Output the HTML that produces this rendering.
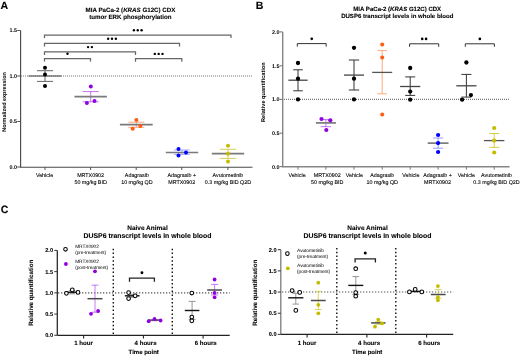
<!DOCTYPE html><html><head><meta charset="utf-8"><style>html,body{margin:0;padding:0;background:#fff;width:520px;height:356px;overflow:hidden}svg{display:block;will-change:transform}text{font-family:"Liberation Sans",sans-serif;fill:#000;stroke:#000;stroke-width:0.1px;text-rendering:geometricPrecision}</style></head><body>
<svg width="520" height="356" viewBox="0 0 520 356">
<text x="0.5" y="8.6" font-size="10.6" text-anchor="start" font-weight="bold" >A</text>
<text x="255.8" y="8.8" font-size="10.6" text-anchor="start" font-weight="bold" >B</text>
<text x="0.8" y="213.3" font-size="10.6" text-anchor="start" font-weight="bold" >C</text>
<text x="130.5" y="11.6" font-size="6.2" text-anchor="middle" font-weight="bold" >MIA PaCa-2 (<tspan font-style="italic">KRAS</tspan> G12C) CDX</text>
<text x="130.4" y="18.5" font-size="6.2" text-anchor="middle" font-weight="bold" >tumor ERK phosphorylation</text>
<line x1="21" y1="76" x2="253" y2="76" stroke="#777" stroke-width="1.2" stroke-dasharray="1 1"/>
<path d="M20.6 30.4V167.2H252.5" fill="none" stroke="#4a4a4a" stroke-width="1.15"/>
<line x1="17.3" y1="30.5" x2="20.6" y2="30.5" stroke="#555" stroke-width="1.05" />
<text x="16.9" y="32.4" font-size="5.4" text-anchor="end" font-weight="bold" style="stroke:none">1.5</text>
<line x1="17.3" y1="76" x2="20.6" y2="76" stroke="#555" stroke-width="1.05" />
<text x="16.9" y="77.9" font-size="5.4" text-anchor="end" font-weight="bold" style="stroke:none">1.0</text>
<line x1="17.3" y1="121.5" x2="20.6" y2="121.5" stroke="#555" stroke-width="1.05" />
<text x="16.9" y="123.4" font-size="5.4" text-anchor="end" font-weight="bold" style="stroke:none">0.5</text>
<line x1="17.3" y1="167" x2="20.6" y2="167" stroke="#555" stroke-width="1.05" />
<text x="16.9" y="168.9" font-size="5.4" text-anchor="end" font-weight="bold" style="stroke:none">0.0</text>
<line x1="45" y1="167.2" x2="45" y2="170" stroke="#555" stroke-width="1" />
<line x1="90.6" y1="167.2" x2="90.6" y2="170" stroke="#555" stroke-width="1" />
<line x1="136.2" y1="167.2" x2="136.2" y2="170" stroke="#555" stroke-width="1" />
<line x1="181.8" y1="167.2" x2="181.8" y2="170" stroke="#555" stroke-width="1" />
<line x1="227.9" y1="167.2" x2="227.9" y2="170" stroke="#555" stroke-width="1" />
<text x="6.2" y="102" font-size="5.45" text-anchor="middle" font-weight="bold" style="stroke:none" transform="rotate(-90 6.2 102)">Normalized expression</text>
<text x="44.5" y="177.4" font-size="5.35" text-anchor="middle" font-weight="normal" >Vehicle</text>
<text x="90.6" y="177.4" font-size="5.35" text-anchor="middle" font-weight="normal" >MRTX0902</text>
<text x="90.6" y="183.5" font-size="5.35" text-anchor="middle" font-weight="normal" >50 mg/kg BID</text>
<text x="136.89999999999998" y="177.4" font-size="5.35" text-anchor="middle" font-weight="normal" >Adagrasib</text>
<text x="136.89999999999998" y="183.5" font-size="5.35" text-anchor="middle" font-weight="normal" >10 mg/kg QD</text>
<text x="181.8" y="177.4" font-size="5.35" text-anchor="middle" font-weight="normal" >Adagrasib +</text>
<text x="181.8" y="183.5" font-size="5.35" text-anchor="middle" font-weight="normal" >MRTX0902</text>
<text x="227.9" y="177.4" font-size="5.35" text-anchor="middle" font-weight="normal" >Avutometinib</text>
<text x="227.9" y="183.5" font-size="5.35" text-anchor="middle" font-weight="normal" >0.3 mg/kg BID Q2D</text>
<line x1="45" y1="70.7" x2="45" y2="81.4" stroke="#555" stroke-width="0.9" />
<line x1="37" y1="70.7" x2="53" y2="70.7" stroke="#555" stroke-width="0.9" />
<line x1="37" y1="81.4" x2="53" y2="81.4" stroke="#555" stroke-width="0.9" />
<line x1="28.5" y1="76.0" x2="61.5" y2="76.0" stroke="#7a7a7a" stroke-width="1.7" />
<circle cx="45" cy="67.7" r="2.0" fill="#000"/>
<circle cx="45" cy="74.5" r="2.0" fill="#000"/>
<circle cx="45" cy="85.9" r="2.0" fill="#000"/>
<line x1="90.7" y1="91.6" x2="90.7" y2="101.8" stroke="#b050f0" stroke-width="0.8" />
<line x1="82.7" y1="91.6" x2="98.7" y2="91.6" stroke="#b050f0" stroke-width="0.8" />
<line x1="82.7" y1="101.8" x2="98.7" y2="101.8" stroke="#b050f0" stroke-width="0.8" />
<line x1="74.5" y1="96.7" x2="106.9" y2="96.7" stroke="#7a7a7a" stroke-width="1.7" />
<circle cx="90.8" cy="86.6" r="2.0" fill="#9000e0"/>
<circle cx="86.9" cy="102.9" r="2.0" fill="#9000e0"/>
<circle cx="94.5" cy="100.9" r="2.0" fill="#9000e0"/>
<line x1="136.3" y1="122.2" x2="136.3" y2="127.3" stroke="#ff9060" stroke-width="0.8" />
<line x1="128.3" y1="122.2" x2="144.3" y2="122.2" stroke="#ff9060" stroke-width="0.8" />
<line x1="128.3" y1="127.3" x2="144.3" y2="127.3" stroke="#ff9060" stroke-width="0.8" />
<line x1="119.9" y1="124.7" x2="152.70000000000002" y2="124.7" stroke="#7a7a7a" stroke-width="1.7" />
<circle cx="136.4" cy="119.9" r="2.0" fill="#ff5a14"/>
<circle cx="132.7" cy="128.7" r="2.0" fill="#ff5a14"/>
<circle cx="140.3" cy="126" r="2.0" fill="#ff5a14"/>
<line x1="182" y1="150" x2="182" y2="154.4" stroke="#8080ff" stroke-width="0.7" />
<line x1="174.2" y1="150" x2="189.8" y2="150" stroke="#8080ff" stroke-width="0.7" />
<line x1="174.2" y1="154.4" x2="189.8" y2="154.4" stroke="#8080ff" stroke-width="0.7" />
<line x1="165.8" y1="152.5" x2="198.2" y2="152.5" stroke="#7a7a7a" stroke-width="1.7" />
<circle cx="178.5" cy="149" r="2.0" fill="#0000ff"/>
<circle cx="178.5" cy="155.6" r="2.0" fill="#0000ff"/>
<circle cx="186" cy="152.5" r="2.0" fill="#0000ff"/>
<line x1="228" y1="149.3" x2="228" y2="158.4" stroke="#c8bf20" stroke-width="0.75" />
<line x1="219.8" y1="149.3" x2="236.2" y2="149.3" stroke="#c8bf20" stroke-width="0.75" />
<line x1="219.8" y1="158.4" x2="236.2" y2="158.4" stroke="#c8bf20" stroke-width="0.75" />
<line x1="211.8" y1="153.6" x2="244.2" y2="153.6" stroke="#7a7a7a" stroke-width="1.7" />
<circle cx="228" cy="145.7" r="2.0" fill="#c4bc00"/>
<circle cx="228" cy="153.8" r="2.0" fill="#c4bc00"/>
<circle cx="228" cy="161.6" r="2.0" fill="#c4bc00"/>
<path d="M44.5 38.0V35.0H231V38.0" fill="none" stroke="#666" stroke-width="1.25"/>
<circle cx="133.9" cy="30.2" r="1.2" fill="#000"/>
<circle cx="137.75" cy="30.2" r="1.2" fill="#000"/>
<circle cx="141.6" cy="30.2" r="1.2" fill="#000"/>
<path d="M44.5 46.4V43.4H179.5V46.4" fill="none" stroke="#666" stroke-width="1.25"/>
<circle cx="108.15" cy="38.8" r="1.2" fill="#000"/>
<circle cx="112.0" cy="38.8" r="1.2" fill="#000"/>
<circle cx="115.85" cy="38.8" r="1.2" fill="#000"/>
<path d="M44.5 54.9V51.9H135.5V54.9" fill="none" stroke="#666" stroke-width="1.25"/>
<circle cx="88.075" cy="47.1" r="1.2" fill="#000"/>
<circle cx="91.925" cy="47.1" r="1.2" fill="#000"/>
<path d="M44.5 61.6V58.6H90.5V61.6" fill="none" stroke="#666" stroke-width="1.25"/>
<circle cx="67.5" cy="53.8" r="1.2" fill="#000"/>
<path d="M135.5 61.7V58.7H181.8V61.7" fill="none" stroke="#666" stroke-width="1.25"/>
<circle cx="154.8" cy="53.9" r="1.2" fill="#000"/>
<circle cx="158.65" cy="53.9" r="1.2" fill="#000"/>
<circle cx="162.5" cy="53.9" r="1.2" fill="#000"/>
<text x="397.25" y="11.0" font-size="6.05" text-anchor="middle" font-weight="bold" >MIA PaCa-2 (<tspan font-style="italic">KRAS</tspan> G12C) CDX</text>
<text x="397.25" y="17.9" font-size="6.05" text-anchor="middle" font-weight="bold" >DUSP6 transcript levels in whole blood</text>
<line x1="284" y1="99.4" x2="510" y2="99.4" stroke="#777" stroke-width="1.2" stroke-dasharray="1 1"/>
<path d="M282.7 31.9V166.8H509.6" fill="none" stroke="#858585" stroke-width="1.4"/>
<line x1="279.6" y1="31.9" x2="282.7" y2="31.9" stroke="#777" stroke-width="1.1" />
<text x="279.5" y="33.8" font-size="5.4" text-anchor="end" font-weight="bold" style="stroke:none">2.0</text>
<line x1="279.6" y1="65.8" x2="282.7" y2="65.8" stroke="#777" stroke-width="1.1" />
<text x="279.5" y="67.7" font-size="5.4" text-anchor="end" font-weight="bold" style="stroke:none">1.5</text>
<line x1="279.6" y1="99.4" x2="282.7" y2="99.4" stroke="#777" stroke-width="1.1" />
<text x="279.5" y="101.30000000000001" font-size="5.4" text-anchor="end" font-weight="bold" style="stroke:none">1.0</text>
<line x1="279.6" y1="133.2" x2="282.7" y2="133.2" stroke="#777" stroke-width="1.1" />
<text x="279.5" y="135.1" font-size="5.4" text-anchor="end" font-weight="bold" style="stroke:none">0.5</text>
<line x1="279.6" y1="166.6" x2="282.7" y2="166.6" stroke="#777" stroke-width="1.1" />
<text x="279.5" y="168.5" font-size="5.4" text-anchor="end" font-weight="bold" style="stroke:none">0.0</text>
<line x1="298" y1="166.8" x2="298" y2="169.6" stroke="#777" stroke-width="1" />
<line x1="325.9" y1="166.8" x2="325.9" y2="169.6" stroke="#777" stroke-width="1" />
<line x1="354" y1="166.8" x2="354" y2="169.6" stroke="#777" stroke-width="1" />
<line x1="382.2" y1="166.8" x2="382.2" y2="169.6" stroke="#777" stroke-width="1" />
<line x1="410.2" y1="166.8" x2="410.2" y2="169.6" stroke="#777" stroke-width="1" />
<line x1="438.1" y1="166.8" x2="438.1" y2="169.6" stroke="#777" stroke-width="1" />
<line x1="466.4" y1="166.8" x2="466.4" y2="169.6" stroke="#777" stroke-width="1" />
<line x1="494.2" y1="166.8" x2="494.2" y2="169.6" stroke="#777" stroke-width="1" />
<text x="265.1" y="92.1" font-size="5.6" text-anchor="middle" font-weight="bold" style="stroke:none" transform="rotate(-90 265.1 92.1)">Relative quantification</text>
<text x="297" y="177.3" font-size="5.35" text-anchor="middle" font-weight="normal" >Vehicle</text>
<text x="327.2" y="177.3" font-size="5.35" text-anchor="middle" font-weight="normal" >MRTX0902</text>
<text x="327.2" y="183.5" font-size="5.35" text-anchor="middle" font-weight="normal" >50 mg/kg BID</text>
<text x="354.3" y="177.3" font-size="5.35" text-anchor="middle" font-weight="normal" >Vehicle</text>
<text x="382.2" y="177.3" font-size="5.35" text-anchor="middle" font-weight="normal" >Adagrasib</text>
<text x="382.2" y="183.5" font-size="5.35" text-anchor="middle" font-weight="normal" >10 mg/kg QD</text>
<text x="410.8" y="177.3" font-size="5.35" text-anchor="middle" font-weight="normal" >Vehicle</text>
<text x="437.5" y="177.3" font-size="5.35" text-anchor="middle" font-weight="normal" >Adagrasib +</text>
<text x="437.5" y="183.5" font-size="5.35" text-anchor="middle" font-weight="normal" >MRTX0902</text>
<text x="466.4" y="177.3" font-size="5.35" text-anchor="middle" font-weight="normal" >Vehicle</text>
<text x="496.5" y="177.3" font-size="5.35" text-anchor="middle" font-weight="normal" >Avutometinib</text>
<text x="496.5" y="183.5" font-size="5.35" text-anchor="middle" font-weight="normal" >0.3 mg/kg BID Q2D</text>
<line x1="298" y1="69.8" x2="298" y2="90.8" stroke="#333" stroke-width="1.0" />
<line x1="293.2" y1="69.8" x2="302.8" y2="69.8" stroke="#333" stroke-width="1.0" />
<line x1="293.2" y1="90.8" x2="302.8" y2="90.8" stroke="#333" stroke-width="1.0" />
<line x1="288.4" y1="80.2" x2="307.6" y2="80.2" stroke="#444" stroke-width="1.3" />
<circle cx="298" cy="63" r="2.15" fill="#000"/>
<circle cx="298" cy="78.7" r="2.15" fill="#000"/>
<circle cx="298" cy="99.4" r="2.15" fill="#000"/>
<line x1="325.9" y1="119.6" x2="325.9" y2="126.7" stroke="#b050f0" stroke-width="0.8" />
<line x1="320.59999999999997" y1="119.6" x2="331.2" y2="119.6" stroke="#b050f0" stroke-width="0.8" />
<line x1="320.59999999999997" y1="126.7" x2="331.2" y2="126.7" stroke="#b050f0" stroke-width="0.8" />
<line x1="315.9" y1="122.9" x2="335.9" y2="122.9" stroke="#7a7a7a" stroke-width="1.7" />
<circle cx="321.5" cy="119" r="2.1" fill="#9000e0"/>
<circle cx="330.3" cy="120.3" r="2.1" fill="#9000e0"/>
<circle cx="326.3" cy="130" r="2.1" fill="#9000e0"/>
<line x1="354" y1="60" x2="354" y2="90" stroke="#333" stroke-width="1.0" />
<line x1="348.8" y1="60" x2="359.2" y2="60" stroke="#333" stroke-width="1.0" />
<line x1="348.8" y1="90" x2="359.2" y2="90" stroke="#333" stroke-width="1.0" />
<line x1="344" y1="75.1" x2="364" y2="75.1" stroke="#444" stroke-width="1.3" />
<circle cx="354" cy="47.8" r="2.15" fill="#000"/>
<circle cx="354" cy="78.7" r="2.15" fill="#000"/>
<circle cx="354" cy="99.4" r="2.15" fill="#000"/>
<line x1="382.2" y1="50.6" x2="382.2" y2="93.8" stroke="#ff9060" stroke-width="0.8" />
<line x1="377.4" y1="50.6" x2="387.0" y2="50.6" stroke="#ff9060" stroke-width="0.8" />
<line x1="377.4" y1="93.8" x2="387.0" y2="93.8" stroke="#ff9060" stroke-width="0.8" />
<line x1="372.2" y1="72.4" x2="392.2" y2="72.4" stroke="#555" stroke-width="1.3" />
<circle cx="382.2" cy="44.5" r="2.0" fill="#ff5a14"/>
<circle cx="382.2" cy="57.4" r="2.0" fill="#ff5a14"/>
<circle cx="382.2" cy="114.5" r="2.0" fill="#ff5a14"/>
<line x1="410.2" y1="76.9" x2="410.2" y2="95.4" stroke="#333" stroke-width="1.0" />
<line x1="405.2" y1="76.9" x2="415.2" y2="76.9" stroke="#333" stroke-width="1.0" />
<line x1="405.2" y1="95.4" x2="415.2" y2="95.4" stroke="#333" stroke-width="1.0" />
<line x1="400.09999999999997" y1="86.5" x2="420.3" y2="86.5" stroke="#444" stroke-width="1.3" />
<circle cx="410.2" cy="68" r="2.15" fill="#000"/>
<circle cx="410.2" cy="91.6" r="2.15" fill="#000"/>
<circle cx="410.2" cy="99.7" r="2.15" fill="#000"/>
<line x1="438.1" y1="138" x2="438.1" y2="148.2" stroke="#8080ff" stroke-width="0.8" />
<line x1="433.1" y1="138" x2="443.1" y2="138" stroke="#8080ff" stroke-width="0.8" />
<line x1="433.1" y1="148.2" x2="443.1" y2="148.2" stroke="#8080ff" stroke-width="0.8" />
<line x1="427.70000000000005" y1="143.1" x2="448.5" y2="143.1" stroke="#555" stroke-width="1.3" />
<circle cx="438.1" cy="135" r="2.1" fill="#0000ff"/>
<circle cx="438.1" cy="143.1" r="2.1" fill="#0000ff"/>
<circle cx="438.1" cy="152" r="2.1" fill="#0000ff"/>
<line x1="466.4" y1="74.4" x2="466.4" y2="97.1" stroke="#333" stroke-width="1.0" />
<line x1="461.4" y1="74.4" x2="471.4" y2="74.4" stroke="#333" stroke-width="1.0" />
<line x1="461.4" y1="97.1" x2="471.4" y2="97.1" stroke="#333" stroke-width="1.0" />
<line x1="456.29999999999995" y1="85.8" x2="476.5" y2="85.8" stroke="#444" stroke-width="1.3" />
<circle cx="466.4" cy="62.5" r="2.15" fill="#000"/>
<circle cx="470.9" cy="95.1" r="2.15" fill="#000"/>
<circle cx="462.1" cy="99.7" r="2.15" fill="#000"/>
<line x1="494.2" y1="133.5" x2="494.2" y2="147.4" stroke="#d0c830" stroke-width="0.9" />
<line x1="489.2" y1="133.5" x2="499.2" y2="133.5" stroke="#d0c830" stroke-width="0.9" />
<line x1="489.2" y1="147.4" x2="499.2" y2="147.4" stroke="#d0c830" stroke-width="0.9" />
<line x1="484.0" y1="140.6" x2="504.4" y2="140.6" stroke="#555" stroke-width="1.3" />
<circle cx="494.2" cy="128" r="2.1" fill="#c4bc00"/>
<circle cx="494.2" cy="140.6" r="2.1" fill="#c4bc00"/>
<circle cx="494.2" cy="152.5" r="2.1" fill="#c4bc00"/>
<path d="M297.3 46.6V43.6H326.2V46.6" fill="none" stroke="#333" stroke-width="1"/>
<circle cx="311.75" cy="38.8" r="1.35" fill="#000"/>
<path d="M409.6 46.8V43.8H438.7V46.8" fill="none" stroke="#333" stroke-width="1"/>
<circle cx="422.22499999999997" cy="38.9" r="1.3" fill="#000"/>
<circle cx="426.075" cy="38.9" r="1.3" fill="#000"/>
<path d="M465.3 46.8V43.8H494.4V46.8" fill="none" stroke="#333" stroke-width="1"/>
<circle cx="479.85" cy="38.9" r="1.35" fill="#000"/>
<text x="147.5" y="230.0" font-size="6.5" text-anchor="middle" font-weight="bold" >Naive Animal</text>
<text x="147.5" y="238.3" font-size="6.9" text-anchor="middle" font-weight="bold" >DUSP6 transcript levels in whole blood</text>
<line x1="58" y1="292.85" x2="229.7" y2="292.85" stroke="#555" stroke-width="1.1" stroke-dasharray="1.3 1.7"/>
<line x1="113.3" y1="248.8" x2="113.3" y2="335.3" stroke="#111" stroke-width="1.4" stroke-dasharray="1.5 2.3"/>
<line x1="172.3" y1="248.8" x2="172.3" y2="335.3" stroke="#111" stroke-width="1.4" stroke-dasharray="1.5 2.3"/>
<path d="M57.3 250.4V335.3" fill="none" stroke="#222" stroke-width="1.25"/>
<path d="M57.3 335.3H229.7" fill="none" stroke="#222" stroke-width="1.25"/>
<line x1="54.3" y1="250.4" x2="57.3" y2="250.4" stroke="#333" stroke-width="1" />
<text x="53.0" y="252.4" font-size="5.6" text-anchor="end" font-weight="bold" >2.0</text>
<line x1="54.3" y1="271.625" x2="57.3" y2="271.625" stroke="#333" stroke-width="1" />
<text x="53.0" y="273.625" font-size="5.6" text-anchor="end" font-weight="bold" >1.5</text>
<line x1="54.3" y1="292.85" x2="57.3" y2="292.85" stroke="#333" stroke-width="1" />
<text x="53.0" y="294.85" font-size="5.6" text-anchor="end" font-weight="bold" >1.0</text>
<line x1="54.3" y1="314.075" x2="57.3" y2="314.075" stroke="#333" stroke-width="1" />
<text x="53.0" y="316.075" font-size="5.6" text-anchor="end" font-weight="bold" >0.5</text>
<line x1="54.3" y1="335.3" x2="57.3" y2="335.3" stroke="#333" stroke-width="1" />
<text x="53.0" y="337.3" font-size="5.6" text-anchor="end" font-weight="bold" >0.0</text>
<line x1="83.6" y1="335.3" x2="83.6" y2="338.5" stroke="#222" stroke-width="1.1" />
<text x="83.6" y="345.0" font-size="6.1" text-anchor="middle" font-weight="bold" >1 hour</text>
<line x1="143.39999999999998" y1="335.3" x2="143.39999999999998" y2="338.5" stroke="#222" stroke-width="1.1" />
<text x="145.59999999999997" y="345.0" font-size="6.1" text-anchor="middle" font-weight="bold" >4 hours</text>
<line x1="203.10000000000002" y1="335.3" x2="203.10000000000002" y2="338.5" stroke="#222" stroke-width="1.1" />
<text x="205.70000000000002" y="345.0" font-size="6.1" text-anchor="middle" font-weight="bold" >6 hours</text>
<text x="143.7" y="354.3" font-size="6.0" text-anchor="middle" font-weight="bold" >Time point</text>
<text x="33.099999999999994" y="292.7" font-size="6.2" text-anchor="middle" font-weight="bold" transform="rotate(-90 33.099999999999994 292.7)">Relative quantification</text>
<circle cx="65.5" cy="249.3" r="1.8" fill="#fff" stroke="#000" stroke-width="1.05"/>
<text x="75.19999999999999" y="248.10000000000002" font-size="4.85" text-anchor="start" font-weight="normal" fill="#222" style="stroke:none" letter-spacing="-0.1">MRTX0902</text>
<text x="75.19999999999999" y="253.9" font-size="4.85" text-anchor="start" font-weight="normal" fill="#222" style="stroke:none" letter-spacing="-0.1">(pre-treatment)</text>
<circle cx="65.89999999999999" cy="264.0" r="1.9" fill="#9000e0"/>
<text x="75.19999999999999" y="263.0" font-size="4.85" text-anchor="start" font-weight="normal" fill="#222" style="stroke:none" letter-spacing="-0.1">MRTX0902</text>
<text x="75.19999999999999" y="268.8" font-size="4.85" text-anchor="start" font-weight="normal" fill="#222" style="stroke:none" letter-spacing="-0.1">(post-treatment)</text>
<line x1="72.2" y1="290.5" x2="72.2" y2="293.8" stroke="#8a8a8a" stroke-width="0.9" />
<line x1="69.2" y1="290.5" x2="75.2" y2="290.5" stroke="#8a8a8a" stroke-width="0.9" />
<line x1="69.2" y1="293.8" x2="75.2" y2="293.8" stroke="#8a8a8a" stroke-width="0.9" />
<line x1="64.9" y1="292.2" x2="79.5" y2="292.2" stroke="#111" stroke-width="1.4" />
<circle cx="66.4" cy="293.3" r="1.85" fill="#fff" stroke="#000" stroke-width="1.05"/>
<circle cx="72.3" cy="289.9" r="1.85" fill="#fff" stroke="#000" stroke-width="1.05"/>
<circle cx="78" cy="292.4" r="1.85" fill="#fff" stroke="#000" stroke-width="1.05"/>
<line x1="95" y1="285.2" x2="95" y2="312.2" stroke="#b050f0" stroke-width="0.75" />
<line x1="91.6" y1="285.2" x2="98.4" y2="285.2" stroke="#b050f0" stroke-width="0.75" />
<line x1="91.6" y1="312.2" x2="98.4" y2="312.2" stroke="#b050f0" stroke-width="0.75" />
<line x1="87.5" y1="298.7" x2="102.5" y2="298.7" stroke="#4a4a4a" stroke-width="1.5" />
<circle cx="95" cy="271.3" r="1.9" fill="#9000e0"/>
<circle cx="91" cy="313.8" r="1.9" fill="#9000e0"/>
<circle cx="98.1" cy="311" r="1.9" fill="#9000e0"/>
<line x1="132.2" y1="294.3" x2="132.2" y2="297.3" stroke="#8a8a8a" stroke-width="0.9" />
<line x1="129.2" y1="294.3" x2="135.2" y2="294.3" stroke="#8a8a8a" stroke-width="0.9" />
<line x1="129.2" y1="297.3" x2="135.2" y2="297.3" stroke="#8a8a8a" stroke-width="0.9" />
<line x1="124.79999999999998" y1="295.8" x2="139.6" y2="295.8" stroke="#111" stroke-width="1.4" />
<circle cx="128.6" cy="292.6" r="1.85" fill="#fff" stroke="#000" stroke-width="1.05"/>
<circle cx="128.6" cy="298.6" r="1.85" fill="#fff" stroke="#000" stroke-width="1.05"/>
<circle cx="135.2" cy="295.8" r="1.85" fill="#fff" stroke="#000" stroke-width="1.05"/>
<line x1="154.6" y1="319.5" x2="154.6" y2="320.8" stroke="#b050f0" stroke-width="0.75" />
<line x1="151.6" y1="319.5" x2="157.6" y2="319.5" stroke="#b050f0" stroke-width="0.75" />
<line x1="151.6" y1="320.8" x2="157.6" y2="320.8" stroke="#b050f0" stroke-width="0.75" />
<line x1="148.1" y1="320.1" x2="161.1" y2="320.1" stroke="#4a4a4a" stroke-width="1.5" />
<circle cx="148.7" cy="321.2" r="1.9" fill="#9000e0"/>
<circle cx="154.5" cy="318.9" r="1.9" fill="#9000e0"/>
<circle cx="160.6" cy="320.5" r="1.9" fill="#9000e0"/>
<line x1="192.1" y1="301.4" x2="192.1" y2="319.3" stroke="#8a8a8a" stroke-width="0.9" />
<line x1="188.6" y1="301.4" x2="195.6" y2="301.4" stroke="#8a8a8a" stroke-width="0.9" />
<line x1="188.6" y1="319.3" x2="195.6" y2="319.3" stroke="#8a8a8a" stroke-width="0.9" />
<line x1="184.79999999999998" y1="310.5" x2="199.4" y2="310.5" stroke="#111" stroke-width="1.4" />
<circle cx="191.8" cy="293.0" r="1.85" fill="#fff" stroke="#000" stroke-width="1.05"/>
<circle cx="191.8" cy="317.1" r="1.85" fill="#fff" stroke="#000" stroke-width="1.05"/>
<circle cx="191.8" cy="320.8" r="1.85" fill="#fff" stroke="#000" stroke-width="1.05"/>
<line x1="214.6" y1="284.4" x2="214.6" y2="295.0" stroke="#b050f0" stroke-width="0.75" />
<line x1="211.0" y1="284.4" x2="218.2" y2="284.4" stroke="#b050f0" stroke-width="0.75" />
<line x1="211.0" y1="295.0" x2="218.2" y2="295.0" stroke="#b050f0" stroke-width="0.75" />
<line x1="207.2" y1="290.0" x2="222.0" y2="290.0" stroke="#4a4a4a" stroke-width="1.5" />
<circle cx="214.6" cy="279.5" r="1.9" fill="#9000e0"/>
<circle cx="214.6" cy="292.9" r="1.9" fill="#9000e0"/>
<circle cx="214.6" cy="297.3" r="1.9" fill="#9000e0"/>
<path d="M129.5 281.8V278.1H154.4V281.8" fill="none" stroke="#222" stroke-width="1.3"/>
<circle cx="141.95" cy="272.8" r="1.45" fill="#000"/>
<text x="367.5" y="230.0" font-size="6.5" text-anchor="middle" font-weight="bold" >Naive Animal</text>
<text x="367.5" y="238.3" font-size="6.9" text-anchor="middle" font-weight="bold" >DUSP6 transcript levels in whole blood</text>
<line x1="282" y1="292.04999999999995" x2="453.20000000000005" y2="292.04999999999995" stroke="#555" stroke-width="1.1" stroke-dasharray="1.3 1.7"/>
<line x1="336.8" y1="247.89999999999998" x2="336.8" y2="334.4" stroke="#111" stroke-width="1.4" stroke-dasharray="1.5 2.3"/>
<line x1="395.8" y1="247.89999999999998" x2="395.8" y2="334.4" stroke="#111" stroke-width="1.4" stroke-dasharray="1.5 2.3"/>
<path d="M280.8 249.7V334.4" fill="none" stroke="#777" stroke-width="1.25"/>
<path d="M280.8 334.4H453.20000000000005" fill="none" stroke="#222" stroke-width="1.25"/>
<line x1="277.8" y1="249.7" x2="280.8" y2="249.7" stroke="#333" stroke-width="1" />
<text x="276.5" y="251.7" font-size="5.6" text-anchor="end" font-weight="bold" >2.0</text>
<line x1="277.8" y1="270.875" x2="280.8" y2="270.875" stroke="#333" stroke-width="1" />
<text x="276.5" y="272.875" font-size="5.6" text-anchor="end" font-weight="bold" >1.5</text>
<line x1="277.8" y1="292.04999999999995" x2="280.8" y2="292.04999999999995" stroke="#333" stroke-width="1" />
<text x="276.5" y="294.04999999999995" font-size="5.6" text-anchor="end" font-weight="bold" >1.0</text>
<line x1="277.8" y1="313.22499999999997" x2="280.8" y2="313.22499999999997" stroke="#333" stroke-width="1" />
<text x="276.5" y="315.22499999999997" font-size="5.6" text-anchor="end" font-weight="bold" >0.5</text>
<line x1="277.8" y1="334.4" x2="280.8" y2="334.4" stroke="#333" stroke-width="1" />
<text x="276.5" y="336.4" font-size="5.6" text-anchor="end" font-weight="bold" >0.0</text>
<line x1="307.1" y1="334.4" x2="307.1" y2="337.59999999999997" stroke="#222" stroke-width="1.1" />
<text x="307.1" y="345.0" font-size="6.1" text-anchor="middle" font-weight="bold" >1 hour</text>
<line x1="366.9" y1="334.4" x2="366.9" y2="337.59999999999997" stroke="#222" stroke-width="1.1" />
<text x="369.09999999999997" y="345.0" font-size="6.1" text-anchor="middle" font-weight="bold" >4 hours</text>
<line x1="426.6" y1="334.4" x2="426.6" y2="337.59999999999997" stroke="#222" stroke-width="1.1" />
<text x="429.20000000000005" y="345.0" font-size="6.1" text-anchor="middle" font-weight="bold" >6 hours</text>
<text x="367.2" y="354.3" font-size="6.0" text-anchor="middle" font-weight="bold" >Time point</text>
<text x="256.6" y="292.7" font-size="6.2" text-anchor="middle" font-weight="bold" transform="rotate(-90 256.6 292.7)">Relative quantification</text>
<circle cx="287.4" cy="253.6" r="1.8" fill="#fff" stroke="#000" stroke-width="1.05"/>
<text x="297.09999999999997" y="252.4" font-size="4.85" text-anchor="start" font-weight="normal" fill="#222" style="stroke:none" letter-spacing="-0.1">Avutometinib</text>
<text x="297.09999999999997" y="258.2" font-size="4.85" text-anchor="start" font-weight="normal" fill="#222" style="stroke:none" letter-spacing="-0.1">(pre-treatment)</text>
<circle cx="287.8" cy="268.3" r="1.9" fill="#c4bc00"/>
<text x="297.09999999999997" y="267.3" font-size="4.85" text-anchor="start" font-weight="normal" fill="#222" style="stroke:none" letter-spacing="-0.1">Avutometinib</text>
<text x="297.09999999999997" y="273.1" font-size="4.85" text-anchor="start" font-weight="normal" fill="#222" style="stroke:none" letter-spacing="-0.1">(post-treatment)</text>
<line x1="295.8" y1="293.3" x2="295.8" y2="304.1" stroke="#8a8a8a" stroke-width="0.9" />
<line x1="292.40000000000003" y1="293.3" x2="299.2" y2="293.3" stroke="#8a8a8a" stroke-width="0.9" />
<line x1="292.40000000000003" y1="304.1" x2="299.2" y2="304.1" stroke="#8a8a8a" stroke-width="0.9" />
<line x1="288.2" y1="297.8" x2="303.40000000000003" y2="297.8" stroke="#111" stroke-width="1.4" />
<circle cx="292.1" cy="290.6" r="1.85" fill="#fff" stroke="#000" stroke-width="1.05"/>
<circle cx="299.7" cy="292.4" r="1.85" fill="#fff" stroke="#000" stroke-width="1.05"/>
<circle cx="295.8" cy="310.4" r="1.85" fill="#fff" stroke="#000" stroke-width="1.05"/>
<line x1="318.3" y1="291.3" x2="318.3" y2="309.5" stroke="#d0c830" stroke-width="0.75" />
<line x1="314.90000000000003" y1="291.3" x2="321.7" y2="291.3" stroke="#d0c830" stroke-width="0.75" />
<line x1="314.90000000000003" y1="309.5" x2="321.7" y2="309.5" stroke="#d0c830" stroke-width="0.75" />
<line x1="310.90000000000003" y1="300.5" x2="325.7" y2="300.5" stroke="#4a4a4a" stroke-width="1.5" />
<circle cx="318.3" cy="282.7" r="1.9" fill="#c4bc00"/>
<circle cx="318.3" cy="304.8" r="1.9" fill="#c4bc00"/>
<circle cx="318.3" cy="313.3" r="1.9" fill="#c4bc00"/>
<line x1="355.8" y1="276.6" x2="355.8" y2="294.4" stroke="#8a8a8a" stroke-width="0.9" />
<line x1="352.40000000000003" y1="276.6" x2="359.2" y2="276.6" stroke="#8a8a8a" stroke-width="0.9" />
<line x1="352.40000000000003" y1="294.4" x2="359.2" y2="294.4" stroke="#8a8a8a" stroke-width="0.9" />
<line x1="348.3" y1="285.4" x2="363.3" y2="285.4" stroke="#111" stroke-width="1.4" />
<circle cx="355.7" cy="268.7" r="1.85" fill="#fff" stroke="#000" stroke-width="1.05"/>
<circle cx="355.7" cy="292.6" r="1.85" fill="#fff" stroke="#000" stroke-width="1.05"/>
<circle cx="355.7" cy="296.2" r="1.85" fill="#fff" stroke="#000" stroke-width="1.05"/>
<line x1="378.3" y1="321.5" x2="378.3" y2="324.3" stroke="#d0c830" stroke-width="0.75" />
<line x1="375.3" y1="321.5" x2="381.3" y2="321.5" stroke="#d0c830" stroke-width="0.75" />
<line x1="375.3" y1="324.3" x2="381.3" y2="324.3" stroke="#d0c830" stroke-width="0.75" />
<line x1="371.1" y1="322.9" x2="385.5" y2="322.9" stroke="#4a4a4a" stroke-width="1.5" />
<circle cx="378.3" cy="319.6" r="1.9" fill="#c4bc00"/>
<circle cx="382.1" cy="323.4" r="1.9" fill="#c4bc00"/>
<circle cx="375" cy="326.7" r="1.9" fill="#c4bc00"/>
<line x1="415.5" y1="291" x2="415.5" y2="292" stroke="#8a8a8a" stroke-width="0.9" />
<line x1="413.5" y1="291" x2="417.5" y2="291" stroke="#8a8a8a" stroke-width="0.9" />
<line x1="413.5" y1="292" x2="417.5" y2="292" stroke="#8a8a8a" stroke-width="0.9" />
<line x1="408.3" y1="291.4" x2="422.7" y2="291.4" stroke="#111" stroke-width="1.4" />
<circle cx="409.4" cy="291.9" r="1.85" fill="#fff" stroke="#000" stroke-width="1.05"/>
<circle cx="415.2" cy="289.4" r="1.85" fill="#fff" stroke="#000" stroke-width="1.05"/>
<circle cx="421.8" cy="291.9" r="1.85" fill="#fff" stroke="#000" stroke-width="1.05"/>
<line x1="438.2" y1="289.6" x2="438.2" y2="298.3" stroke="#d0c830" stroke-width="0.75" />
<line x1="434.7" y1="289.6" x2="441.7" y2="289.6" stroke="#d0c830" stroke-width="0.75" />
<line x1="434.7" y1="298.3" x2="441.7" y2="298.3" stroke="#d0c830" stroke-width="0.75" />
<line x1="430.8" y1="294.5" x2="445.59999999999997" y2="294.5" stroke="#4a4a4a" stroke-width="1.5" />
<circle cx="437.9" cy="286.1" r="1.9" fill="#c4bc00"/>
<circle cx="437.9" cy="297.1" r="1.9" fill="#c4bc00"/>
<circle cx="437.9" cy="300.2" r="1.9" fill="#c4bc00"/>
<path d="M355.1 262.5V258.8H375.4V262.5" fill="none" stroke="#222" stroke-width="1.3"/>
<circle cx="365.25" cy="253.1" r="1.5" fill="#000"/>
</svg></body></html>
